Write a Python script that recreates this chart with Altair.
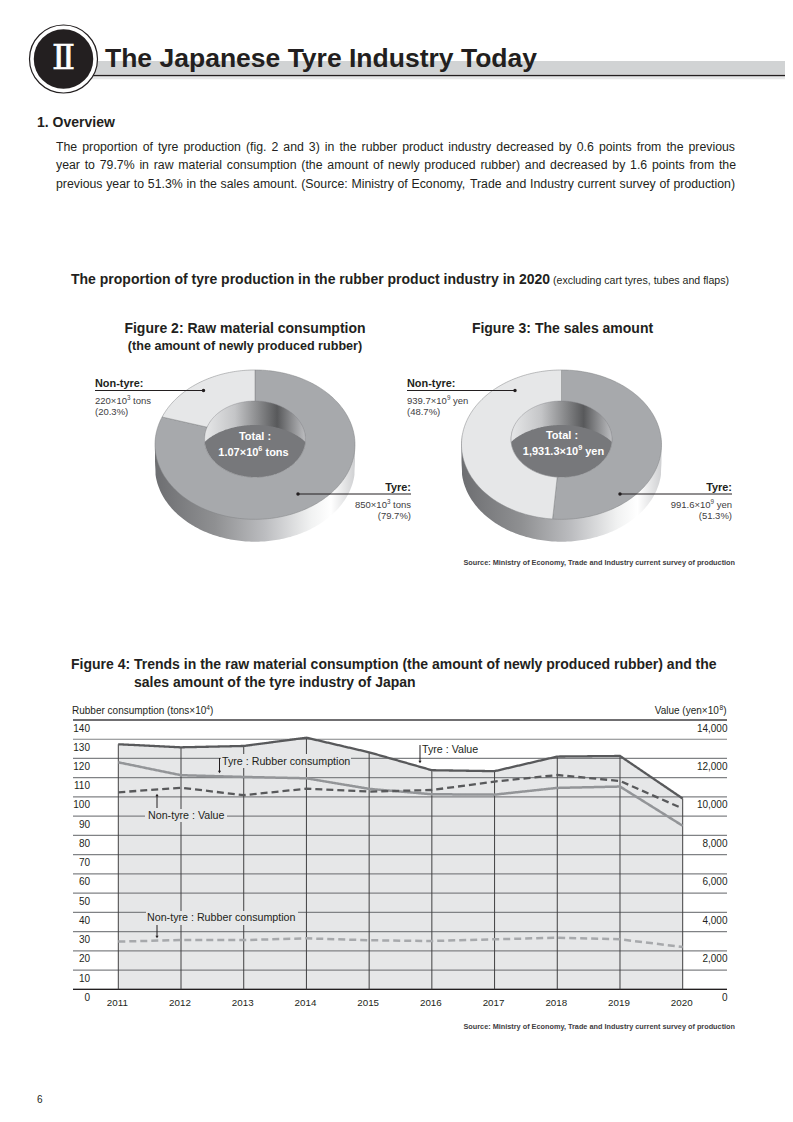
import math
import numpy as np
import pandas as pd
import altair as alt

FONT = "Liberation Sans"
INK = "#231f20"
GREY_TEXT = "#414042"

# ---------- data ----------
years = [2011, 2012, 2013, 2014, 2015, 2016, 2017, 2018, 2019, 2020]
tyre_value = [12740, 12580, 12650, 13080, 12320, 11390, 11340, 12100, 12130, 9916]
nontyre_value = [10240, 10480, 10090, 10430, 10280, 10360, 10800, 11140, 10830, 9397]
tyre_rubber = [118.0, 111.3, 110.4, 109.7, 104.2, 101.4, 101.2, 104.7, 105.4, 85.0]
nontyre_rubber = [24.8, 25.6, 25.6, 26.5, 25.5, 25.1, 26.0, 26.8, 26.0, 22.0]
left_ticks = [0, 10, 20, 30, 40, 50, 60, 70, 80, 90, 100, 110, 120, 130, 140]
right_ticks = [0, 2000, 4000, 6000, 8000, 10000, 12000, 14000]
fig2_shares = {"Tyre": 79.7, "Non-tyre": 20.3}
fig3_shares = {"Tyre": 51.3, "Non-tyre": 48.7}
body_lines = [
    "The proportion of tyre production (fig. 2 and 3) in the rubber product industry decreased by 0.6 points from the previous",
    "year to 79.7% in raw material consumption (the amount of newly produced rubber) and decreased by 1.6 points from the",
    "previous year to 51.3% in the sales amount. (Source: Ministry of Economy, Trade and Industry current survey of production)",
]

W, H = 777, 1106
PX = alt.Scale(domain=[8, 785], range=[0, 777])
PY = alt.Scale(domain=[8, 1114], range=[0, 1106])
XS = alt.Scale(domain=[2011, 2020], range=[110.3, 674.7])
YL = alt.Scale(domain=[0, 140], range=[981.3, 712.0])
YR = alt.Scale(domain=[0, 14000], range=[981.3, 712.0])

layers = []


def txt(s, x, y, size, bold=False, align="left", color=INK, font=FONT, **extra):
    layers.append(
        alt.Chart().mark_text(
            text=s, font=font, fontSize=size, fontWeight="bold" if bold else "normal",
            align=align, baseline="middle", color=color, **extra,
        ).encode(x=alt.value(x - 8), y=alt.value(y - 7.4))
    )


def prect(x0, x1, y0, y1, color):
    layers.append(
        alt.Chart().mark_rect(color=color).encode(
            x=alt.value(x0 - 8), x2=alt.value(x1 - 8), y=alt.value(y0 - 8), y2=alt.value(y1 - 8)
        )
    )


def hline(x0, x1, y, color=INK, w=1.0):
    layers.append(
        alt.Chart().mark_rule(color=color, strokeWidth=w).encode(
            x=alt.value(x0 - 8), x2=alt.value(x1 - 8), y=alt.value(y - 8)
        )
    )


def vline(x, y0, y1, color=INK, w=1.0):
    layers.append(
        alt.Chart().mark_rule(color=color, strokeWidth=w).encode(
            x=alt.value(x - 8), y=alt.value(y0 - 8), y2=alt.value(y1 - 8)
        )
    )


def sym(x, y, size, shape="circle", color=INK, stroke=None, sw=0):
    kw = dict(filled=True, shape=shape, size=size, fill=color, opacity=1)
    if stroke:
        kw.update(stroke=stroke, strokeWidth=sw)
    else:
        kw.update(strokeWidth=0)
    layers.append(alt.Chart().mark_point(**kw).encode(x=alt.value(x - 8), y=alt.value(y - 8)))


def gradient(stops):
    return alt.Gradient(
        gradient="linear", x1=0, x2=1, y1=0, y2=0,
        stops=[alt.GradientStop(offset=o, color=c) for o, c in stops],
    )


# Helvetica/Arial advance widths, used only to lay text out beside itself
CW = dict(zip("abcdefghijklmnopqrstuvwxyz", [556, 556, 500, 556, 556, 278, 556, 556, 222, 222, 500, 222, 833,
                                             556, 556, 556, 556, 333, 500, 278, 556, 500, 722, 500, 500, 500]))
CW.update({c: 556 for c in "0123456789"})
CW.update({".": 278, ",": 278, ":": 278, " ": 278, "(": 333, ")": 333, "%": 889, "T": 611, "S": 667, "M": 833,
           "E": 667, "I": 278, "R": 722, "V": 667, "\u00d7": 584})
CWB = dict(CW)
CWB.update({"t": 333, "o": 611, "n": 611, "s": 556, "y": 556, "e": 556})


def width(s, size, bold=False):
    table = CWB if bold else CW
    return sum(table[c] for c in s) * size / 1000


def justified(line, x0, x1, y, size):
    words = line.split(" ")
    ww = [width(w, size) for w in words]
    gap = (x1 - x0 - sum(ww)) / (len(words) - 1)
    x = x0
    for w, wd in zip(words, ww):
        txt(w, x, y, size)
        x += wd + gap


def power(pre, exp, post, x, y, size, bold=False, align="left", color=INK):
    """Text with a real raised exponent, e.g. 220x10 + 3 + tons."""
    ssize = size * 0.66
    total = width(pre, size, bold) + width(exp, ssize, bold) + width(post, size, bold)
    left = x if align == "left" else (x - total if align == "right" else x - total / 2)
    txt(pre, left, y, size, bold, color=color)
    left += width(pre, size, bold)
    txt(exp, left, y - size * 0.3, ssize, bold, color=color)
    left += width(exp, ssize, bold)
    txt(post.strip(), left + width(" ", size, bold) * (post != post.lstrip()), y, size, bold, color=color)


# ---------- header ----------
prect(90, 785, 61, 74.3, "#d1d3d4")
prect(90, 785, 76.5, 79.3, "#e6e7e8")
hline(90, 785, 75.5, "#231f20", 1.6)
sym(63.5, 59, 4624, color="#ffffff", stroke=INK, sw=1.2)
sym(63.5, 59, 3540, color=INK)
txt("\u2161", 63.5, 58.5, 34, color="#ffffff", font="DejaVu Serif", align="center", stroke="#ffffff", strokeWidth=0.6)
txt("The Japanese Tyre Industry Today", 105, 58, 26.5, bold=True)

txt("1. Overview", 37, 122, 14, bold=True)
justified(body_lines[0], 56, 735, 146, 12.3)
justified(body_lines[1], 56, 736, 164, 12.3)
justified(body_lines[2], 56, 735, 183, 12.3)

txt("The proportion of tyre production in the rubber product industry in 2020", 71, 279, 14, bold=True)
txt("(excluding cart tyres, tubes and flaps)", 553, 280.5, 10.6)

txt("Figure 2: Raw material consumption", 245, 328, 14, bold=True, align="center")
txt("(the amount of newly produced rubber)", 245, 345.5, 12.6, bold=True, align="center")
txt("Figure 3: The sales amount", 562.5, 328, 14, bold=True, align="center")


# ---------- doughnuts ----------
def disc_xy(cx, r, t):
    """Projected position on a tilted disc: r in 0..1, t clockwise from the top."""
    e, a, b = 0.089, -35.1, 438.0
    c, s = r * np.cos(t), r * np.sin(t)
    d = 1 + e * c
    return cx + 99.6 * s / d, (a * c + b) / d


def frac_ring(cx, start, pct, r_in=0.505):
    n = max(int(pct * 3), 4)
    t = np.radians(np.linspace(start, start + pct * 3.6, n))
    xo, yo = disc_xy(cx, 1.0, t)
    xi, yi = disc_xy(cx, r_in, t[::-1])
    xs = np.r_[xo, xi, xo[0]]
    ys = np.r_[yo, yi, yo[0]]
    return pd.DataFrame({"x": xs, "y": ys, "i": np.arange(len(xs))})


def doughnut(cx, shares):
    # side wall
    th = np.linspace(-math.pi / 2, math.pi / 2, 181)
    xs, ys = disc_xy(cx, 1.0, th + math.pi)
    wall = pd.DataFrame({"x": xs, "y": ys + 22.4, "y0": ys - 5}).sort_values("x")
    layers.append(
        alt.Chart(wall).mark_area(
            fill=gradient([(0, "#6d6e71"), (0.3, "#8f9092"), (0.55, "#bcbdc0"), (0.78, "#f1f2f2"), (0.88, "#ffffff"), (1, "#cfd0d2")])
        ).encode(
            x=alt.X("x:Q", scale=PX, axis=None), y=alt.Y("y:Q", scale=PY, axis=None), y2="y0:Q"
        )
    )
    # top face
    start = 0.0
    for name, col in (("Tyre", "#a7a9ac"), ("Non-tyre", "#e6e7e8")):
        ring = frac_ring(cx, start, shares[name])
        start += shares[name] * 3.6
        layers.append(
            alt.Chart(ring).mark_line(fill=col, stroke="#808285", strokeWidth=0.5, interpolate="linear").encode(
                x=alt.X("x:Q", scale=PX, axis=None), y=alt.Y("y:Q", scale=PY, axis=None), order="i:Q"
            )
        )
    # hole wall and floor
    rx = 0.505 * 99.8
    hc, ry = 439.0, 38.0
    u = np.sin(np.linspace(-math.pi / 2, math.pi / 2, 181))
    hole = pd.DataFrame({"x": cx + rx * u})
    root = np.sqrt(1 - u ** 2)
    hole["top"] = hc - ry * root
    hole["bot"] = hc + ry * root
    hole["floor"] = np.minimum(hole.bot, np.maximum(hole.top, 463.0 - ry * np.sqrt(1 - (u / 1.2) ** 2)))
    layers.append(
        alt.Chart(hole).mark_area(
            fill=gradient([(0, "#e6e7e8"), (0.3, "#c4c5c7"), (0.72, "#58595b"), (1, "#bcbdc0")]),
            stroke="#808285", strokeWidth=0.4,
        ).encode(x=alt.X("x:Q", scale=PX, axis=None), y=alt.Y("top:Q", scale=PY, axis=None), y2="bot:Q")
    )
    layers.append(
        alt.Chart(hole).mark_area(fill="#77787b").encode(
            x=alt.X("x:Q", scale=PX, axis=None), y=alt.Y("floor:Q", scale=PY, axis=None), y2="bot:Q"
        )
    )


doughnut(255.0, fig2_shares)
doughnut(561.5, fig3_shares)

txt("Total :", 255, 436, 11, bold=True, align="center", color="#ffffff")
power("1.07\u00d710", "6", " tons", 253.5, 452, 11, bold=True, align="center", color="#ffffff")
txt("Total :", 562, 435, 11, bold=True, align="center", color="#ffffff")
power("1,931.3\u00d710", "9", " yen", 563.5, 451, 11, bold=True, align="center", color="#ffffff")

for x0, x1 in ((95, 203.5), (407, 515)):
    hline(x0, x1, 390.5, "#231f20", 1)
    sym(x1, 390.5, 12)
for x0, x1 in ((298, 411), (620, 732)):
    hline(x0, x1, 494, "#231f20", 1)
    sym(x0, 494, 12)

txt("Non-tyre:", 95, 383, 10.9, bold=True)
power("220\u00d710", "3", " tons", 95, 400, 9.5, color=GREY_TEXT)
txt("(20.3%)", 95, 411.5, 9.5, color=GREY_TEXT)
txt("Tyre:", 411, 487, 10.9, bold=True, align="right")
power("850\u00d710", "3", " tons", 411, 504, 9.5, align="right", color=GREY_TEXT)
txt("(79.7%)", 411, 515, 9.5, align="right", color=GREY_TEXT)
txt("Non-tyre:", 407, 383, 10.9, bold=True)
power("939.7\u00d710", "9", " yen", 407, 400, 9.5, color=GREY_TEXT)
txt("(48.7%)", 407, 411.5, 9.5, color=GREY_TEXT)
txt("Tyre:", 732, 487, 10.9, bold=True, align="right")
power("991.6\u00d710", "9", " yen", 732, 504, 9.5, align="right", color=GREY_TEXT)
txt("(51.3%)", 732, 515, 9.5, align="right", color=GREY_TEXT)
SOURCE = "Source: Ministry of Economy, Trade and Industry current survey of production"
txt(SOURCE, 735, 562, 7.3, bold=True, align="right", color=GREY_TEXT)

# ---------- figure 4 ----------
txt("Figure 4: Trends in the raw material consumption (the amount of newly produced rubber) and the", 71, 664, 14, bold=True)
txt("sales amount of the tyre industry of Japan", 134, 682, 14, bold=True)
power("Rubber consumption (tons\u00d710", "4", ")", 72, 710, 10)
power("Value (yen\u00d710", "8", ")", 726.5, 710, 10, align="right")

tv = pd.DataFrame({"year": years, "value": tyre_value, "zero": [0] * len(years)})
grid = pd.DataFrame({"tick": left_ticks})

layers.append(
    alt.Chart(tv).mark_area(color="#e6e7e8", opacity=1).encode(
        x=alt.X("year:Q", scale=XS, axis=alt.Axis(
            orient="bottom", offset=-(H - 994.7), values=years, format="d", title=None, domain=False, ticks=False,
            grid=False, labelPadding=0, labelBaseline="middle", labelFont=FONT, labelFontSize=9.8,
            labelColor=INK, labelOffset=-1.5, labelFlush=False, labelOverlap=False)),
        y=alt.Y("value:Q", scale=YR, axis=alt.Axis(
            orient="right", offset=-(W - 719), values=right_ticks, format=",d", title=None, domain=False, ticks=False,
            grid=False, labelPadding=0, labelAlign="right", labelBaseline="middle", labelFont=FONT,
            labelFontSize=10, labelColor=INK, labelOffset=8, labelFlush=False, labelOverlap=False)),
    )
)
layers.append(
    alt.Chart(grid).mark_rule(stroke="#808285", strokeWidth=1.2).encode(
        x=alt.value(65), x2=alt.value(719),
        y=alt.Y("tick:Q", scale=YL, axis=alt.Axis(
            orient="left", offset=-81.5, values=left_ticks, title=None, domain=False, ticks=False, grid=False,
            labelPadding=0, labelAlign="right", labelBaseline="middle", labelFont=FONT, labelFontSize=10,
            labelColor=INK, labelOffset=8, labelFlush=False, labelOverlap=False)),
    )
)
hline(73, 727, 720, "#231f20", 1.2)
hline(73, 727, 989.4, "#231f20", 1.2)
layers.append(
    alt.Chart(tv).mark_rule(stroke="#414042", strokeWidth=1).encode(
        x=alt.X("year:Q", scale=XS, axis=None),
        y=alt.Y("value:Q", scale=YR, axis=None),
        y2="zero:Q",
    )
)

# label knock-outs
prect(221, 351, 754, 768, "#e6e7e8")
prect(145, 227, 809, 822, "#e6e7e8")
prect(146, 298, 911, 925, "#e6e7e8")

value_long = pd.concat([
    pd.DataFrame({"year": years, "v": tyre_value, "s": "Tyre : Value"}),
    pd.DataFrame({"year": years, "v": nontyre_value, "s": "Non-tyre : Value"}),
])
rubber_long = pd.concat([
    pd.DataFrame({"year": years, "v": tyre_rubber, "s": "Tyre : Rubber consumption"}),
    pd.DataFrame({"year": years, "v": nontyre_rubber, "s": "Non-tyre : Rubber consumption"}),
])
layers.append(
    alt.Chart(rubber_long).mark_line(strokeWidth=2.5).encode(
        x=alt.X("year:Q", scale=XS, axis=None),
        y=alt.Y("v:Q", scale=YL, axis=None),
        color=alt.Color("s:N", legend=None, scale=alt.Scale(
            domain=["Tyre : Rubber consumption", "Non-tyre : Rubber consumption"], range=["#939598", "#a7a9ac"])),
        strokeDash=alt.StrokeDash("s:N", legend=None, scale=alt.Scale(
            domain=["Tyre : Rubber consumption", "Non-tyre : Rubber consumption"], range=[[1, 0], [7, 4]])),
    )
)
layers.append(
    alt.Chart(value_long).mark_line(strokeWidth=2.3).encode(
        x=alt.X("year:Q", scale=XS, axis=None),
        y=alt.Y("v:Q", scale=YR, axis=None),
        color=alt.Color("s:N", legend=None, scale=alt.Scale(
            domain=["Tyre : Value", "Non-tyre : Value"], range=["#58595b", "#58595b"])),
        strokeDash=alt.StrokeDash("s:N", legend=None, scale=alt.Scale(
            domain=["Tyre : Value", "Non-tyre : Value"], range=[[1, 0], [7, 4]])),
    )
)

# annotations
txt("Tyre : Rubber consumption", 222, 761, 10.7)
vline(219.5, 758, 771, "#231f20", 1)
sym(219.5, 772, 10, "triangle-down")
txt("Tyre : Value", 422, 749.5, 10.7)
vline(420, 745, 761, "#231f20", 1)
sym(420, 762, 10, "triangle-down")
txt("Non-tyre : Value", 148, 815, 10.7)
vline(157, 796, 808, "#231f20", 1)
sym(157, 795, 10, "triangle-up")
txt("Non-tyre : Rubber consumption", 147, 917.5, 10.7)
vline(157, 925, 936, "#231f20", 1)
sym(157, 937, 10, "triangle-down")

txt(SOURCE, 735, 1026, 7.3, bold=True, align="right", color=GREY_TEXT)
txt("6", 37, 1099, 10)

chart = alt.layer(*layers).resolve_scale(
    x="independent", y="independent", color="independent", strokeDash="independent"
).properties(
    width=W, height=H, padding=0, background="#ffffff",
    autosize=alt.AutoSizeParams(type="none"),
).configure_view(stroke=None)

chart.save("out.html", embed_options={"renderer": "svg", "actions": False})
